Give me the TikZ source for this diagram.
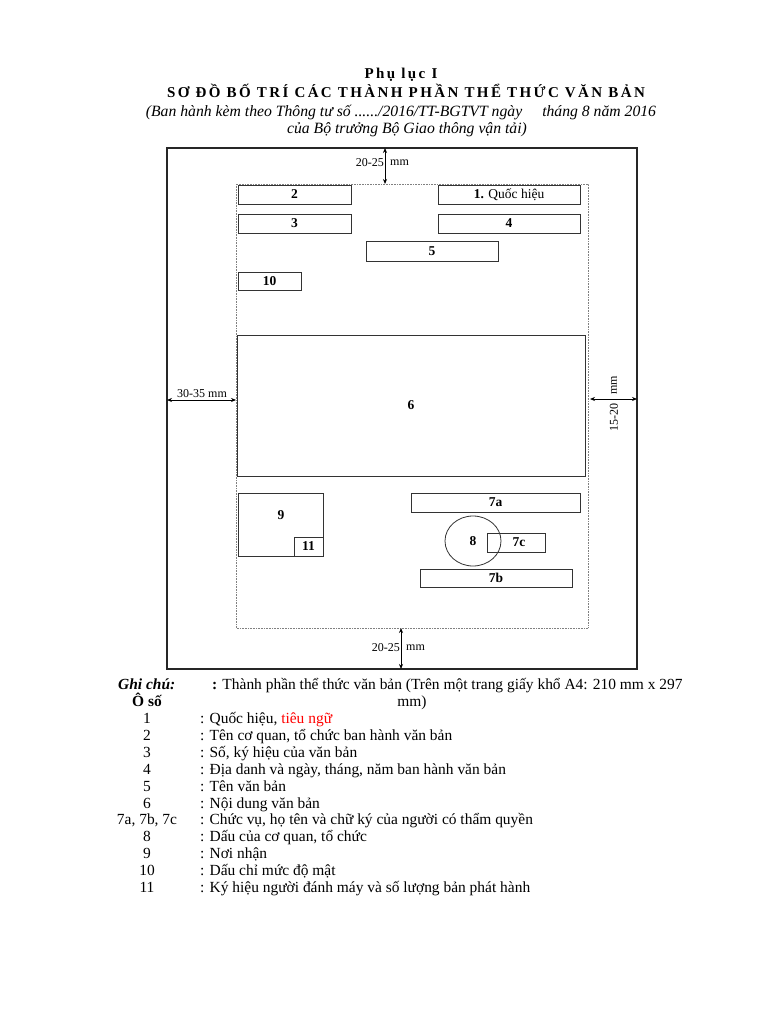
\documentclass[tikz,border=0pt]{standalone}
\usepackage{fontspec}
\setmainfont{Liberation Serif}
\newfontfamily\spacedbf[LetterSpace=16]{Liberation Serif}
\usetikzlibrary{arrows.meta,shapes.geometric}
\tikzset{
  box/.style={draw=black!80, line width=0.8pt, inner sep=0pt, font=\fontsize{13.5}{15}\selectfont\bfseries},
  dim/.style={{Stealth[length=5pt,width=4pt]}-{Stealth[length=5pt,width=4pt]}, line width=0.8pt},
  dimlbl/.style={font=\fontsize{12}{14}\selectfont, inner sep=1pt},
  legend/.style={font=\fontsize{15.45}{17}\selectfont, inner sep=0pt, anchor=base west},
  num/.style={font=\fontsize{15.45}{17}\selectfont, inner sep=0pt, anchor=base},
}
\begin{document}
\begin{tikzpicture}[x=1pt,y=-1pt]
\useasboundingbox (0,0) rectangle (768,1024);
% title
\node[font=\fontsize{15}{17}\selectfont\spacedbf\bfseries, anchor=base] (t1) at (401,79) {Phụ lục I};
\node[font=\fontsize{15}{17}\selectfont\spacedbf\bfseries, anchor=base] (t2) at (406,98) {SƠ ĐỒ BỐ TRÍ CÁC THÀNH PHẦN THỂ THỨC VĂN BẢN};
\node[font=\fontsize{15.7}{17}\selectfont\itshape, anchor=base] (t3) at (401,117) {(Ban hành kèm theo Thông tư số ....../2016/TT-BGTVT ngày\hspace{20pt}tháng 8 năm 2016};
\node[font=\fontsize{15.7}{17}\selectfont\itshape, anchor=base] (t4) at (407,134) {của Bộ trưởng Bộ Giao thông vận tải)};
% frames
\draw[line width=1.3pt, black!85] (167,148) rectangle (637,669);
\draw[densely dotted, line width=0.6pt, black!50] (236,184) rectangle (588,628);
% boxes
\node[box, minimum width=113pt, minimum height=19pt] (b2) at (294.5,194.5) {2};
\node[box, minimum width=142pt, minimum height=19pt, font=\fontsize{13.5}{15}\selectfont] (b1) at (509,194.5) {\textbf{1.} Quốc hiệu};
\node[box, minimum width=113pt, minimum height=19pt] (b3) at (294.5,223.5) {3};
\node[box, minimum width=142pt, minimum height=19pt] (b4) at (509,223.5) {4};
\node[box, minimum width=132pt, minimum height=20pt] (b5) at (432,251) {5};
\node[box, minimum width=63pt, minimum height=18pt] (b10) at (269.5,281) {10};
\node[box, minimum width=348pt, minimum height=141pt] (b6) at (411,405.5) {6};
\node[box, minimum width=85pt, minimum height=63pt] (b9) at (280.5,524.5) {};
\node[font=\fontsize{13.5}{15}\selectfont\bfseries, inner sep=0pt] (l9) at (281,515) {9};
\node[box, minimum width=29pt, minimum height=19pt, fill=white] (b11) at (308.5,546.5) {11};
\node[box, minimum width=169pt, minimum height=19pt] (b7a) at (495.5,502.5) {7a};
\node[box, minimum width=58pt, minimum height=19pt] (b7c) at (516,542.5) {\hspace{6pt}7c};
\node[draw=black!80, line width=0.8pt, ellipse, minimum width=56pt, minimum height=50pt, inner sep=0pt, font=\fontsize{13.5}{15}\selectfont\bfseries] (c8) at (473,541) {8};
\node[box, minimum width=152pt, minimum height=18pt] (b7b) at (496,578) {7b};
% dimension arrows
\coordinate (topA) at (385,148);
\coordinate (topB) at (385,184);
\draw[dim] (topA) -- (topB);
\node[dimlbl, anchor=east] (lt1) at (385,163) {20-25};
\node[dimlbl, anchor=west] (lt2) at (389,163) {mm};
\coordinate (botA) at (401,628);
\coordinate (botB) at (401,669);
\draw[dim] (botA) -- (botB);
\node[dimlbl, anchor=east] (lb1) at (401,648) {20-25};
\node[dimlbl, anchor=west] (lb2) at (405,648) {mm};
\coordinate (lefA) at (167,400);
\coordinate (lefB) at (236,400);
\draw[dim] (lefA) -- (lefB);
\node[dimlbl, anchor=south] (ll) at (202,399) {30-35 mm};
\coordinate (rigA) at (590,399);
\coordinate (rigB) at (637,399);
\draw[dim] (rigA) -- (rigB);
\node[dimlbl, rotate=90, anchor=east] (lr1) at (614,402) {15-20};
\node[dimlbl, rotate=90, anchor=west] (lr2) at (614,396) {mm};
% legend
\node[legend, font=\fontsize{15.45}{17}\selectfont\bfseries\itshape] (g1) at (118,689) {Ghi chú:};
\node[num, font=\fontsize{15.45}{17}\selectfont\bfseries] (g2) at (147,706) {Ô số};
\node[legend] (g3) at (212,689) {\textbf{:} Thành phần thể thức văn bản (Trên một trang giấy khổ A4: 210 mm x 297};
\node[num] (g4) at (412,706) {mm)};
\node[num] (n1) at (147,723) {1};
\node[legend] (d1) at (200,723) {: Quốc hiệu, \textcolor{red}{tiêu ngữ}};
\node[num] (n2) at (147,740) {2};
\node[legend] (d2) at (200,740) {: Tên cơ quan, tổ chức ban hành văn bản};
\node[num] (n3) at (147,757) {3};
\node[legend] (d3) at (200,757) {: Số, ký hiệu của văn bản};
\node[num] (n4) at (147,774) {4};
\node[legend] (d4) at (200,774) {: Địa danh và ngày, tháng, năm ban hành văn bản};
\node[num] (n5) at (147,791) {5};
\node[legend] (d5) at (200,791) {: Tên văn bản};
\node[num] (n6) at (147,808) {6};
\node[legend] (d6) at (200,808) {: Nội dung văn bản};
\node[num] (n7) at (147,824) {7a, 7b, 7c};
\node[legend] (d7) at (200,824) {: Chức vụ, họ tên và chữ ký của người có thẩm quyền};
\node[num] (n8) at (147,841) {8};
\node[legend] (d8) at (200,841) {: Dấu của cơ quan, tổ chức};
\node[num] (n9) at (147,858) {9};
\node[legend] (d9) at (200,858) {: Nơi nhận};
\node[num] (n10) at (147,875) {10};
\node[legend] (d10) at (200,875) {: Dấu chỉ mức độ mật};
\node[num] (n11) at (147,892) {11};
\node[legend] (d11) at (200,892) {: Ký hiệu người đánh máy và số lượng bản phát hành};
\end{tikzpicture}
\end{document}
